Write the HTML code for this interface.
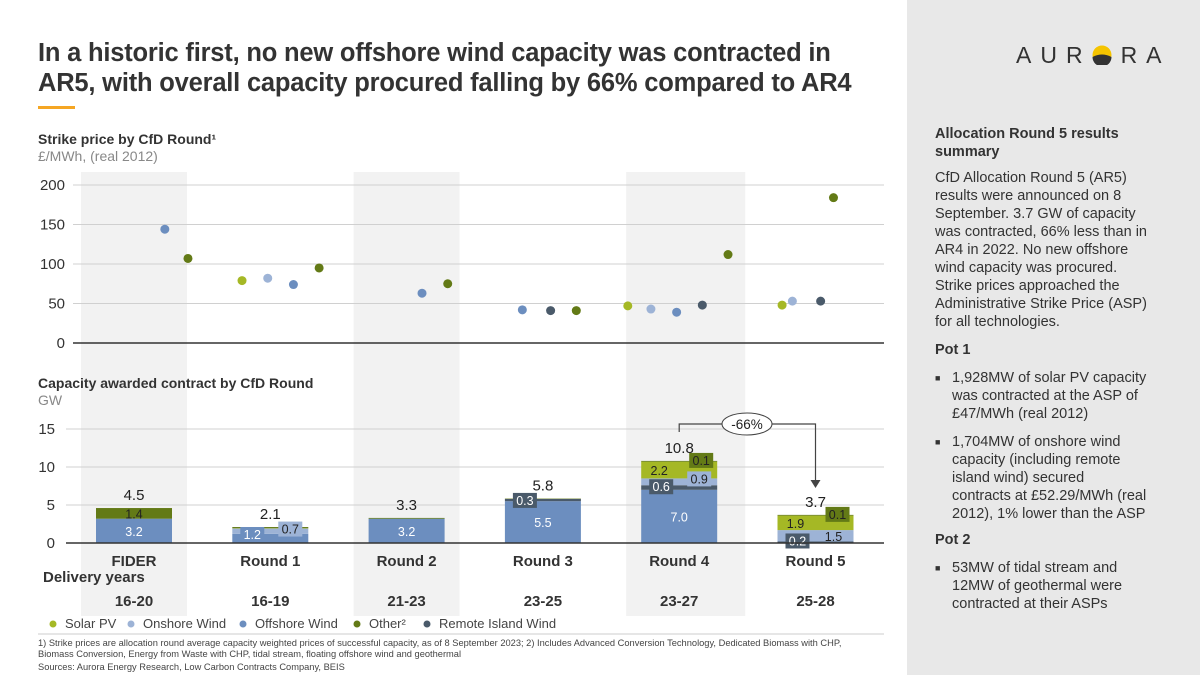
<!DOCTYPE html>
<html><head><meta charset="utf-8"><style>
body{margin:0;width:1200px;height:675px;overflow:hidden;background:#fff;font-family:"Liberation Sans",sans-serif;position:relative}
.side{position:absolute;left:907px;top:0;width:293px;height:675px;background:#e8e8e8}
.title{position:absolute;left:38px;top:38px;font-size:25.5px;font-weight:bold;color:#333;line-height:30px;letter-spacing:-0.2px}
.side p{margin:0}
</style></head><body>
<div class="side">
  <div style="position:absolute;left:109px;top:42px;font-size:23px;letter-spacing:9px;color:#333;white-space:nowrap">AUR<span style="display:inline-block;width:20px;height:20px;position:relative;top:2px;margin-right:9px"><svg width="20" height="20"><circle cx="10" cy="10" r="9.5" fill="#f5c400"/><path d="M0.5 12 Q10 7 19.5 12 A9.5 9.5 0 0 1 0.5 12Z" fill="#333"/></svg></span>RA</div>
  <div style="position:absolute;left:28px;top:125px;width:212px;font-size:14.5px;line-height:18px;color:#333">
    <p style="font-weight:bold">Allocation Round 5 results summary</p>
    <p style="margin-top:8px">CfD Allocation Round 5 (AR5) results were announced on 8 September. 3.7 GW of capacity was contracted, 66% less than in AR4 in 2022. No new offshore wind capacity was procured. Strike prices approached the Administrative Strike Price (ASP) for all technologies.</p>
    <p style="font-weight:bold;margin-top:10px">Pot 1</p>
    <p style="margin-top:10px;padding-left:17px;position:relative"><span style="position:absolute;left:0;font-size:9px">■</span>1,928MW of solar PV capacity was contracted at the ASP of £47/MWh (real 2012)</p>
    <p style="margin-top:10px;padding-left:17px;position:relative"><span style="position:absolute;left:0;font-size:9px">■</span>1,704MW of onshore wind capacity (including remote island wind) secured contracts at £52.29/MWh (real 2012), 1% lower than the ASP</p>
    <p style="font-weight:bold;margin-top:8px">Pot 2</p>
    <p style="margin-top:10px;padding-left:17px;position:relative"><span style="position:absolute;left:0;font-size:9px">■</span>53MW of tidal stream and 12MW of geothermal were contracted at their ASPs</p>
  </div>
</div>
<div class="title">In a historic first, no new offshore wind capacity was contracted in<br>AR5, with overall capacity procured falling by 66% compared to AR4</div>
<div style="position:absolute;left:38px;top:106px;width:37px;height:3px;background:#f5a623"></div>
<svg id="c" width="907" height="675" style="position:absolute;left:0;top:0"></svg>
<script>
const rounds=["FIDER","Round 1","Round 2","Round 3","Round 4","Round 5"];
const years=["16-20","16-19","21-23","23-25","23-27","25-28"];
const seriesNames=["Solar PV","Onshore Wind","Offshore Wind","Other²","Remote Island Wind"];
const colors={"Solar PV":"#a5b825","Onshore Wind":"#9db3d6","Offshore Wind":"#6c8ebf","Other²":"#637a16","Remote Island Wind":"#4a5a6a"};
const priceRound=[0,0,1,1,1,1,2,2,3,3,3,4,4,4,4,4,5,5,5,5];
const priceSeries=["Offshore Wind","Other²","Solar PV","Onshore Wind","Offshore Wind","Other²","Offshore Wind","Other²","Offshore Wind","Remote Island Wind","Other²","Solar PV","Onshore Wind","Offshore Wind","Remote Island Wind","Other²","Solar PV","Onshore Wind","Remote Island Wind","Other²"];
const priceValues=[144,107,79,82,74,95,63,75,42,41,41,47,43,39,48,112,48,53,53,184];
const priceSlot=[1.2,2.1,-1.1,-0.1,0.9,1.9,0.6,1.6,-0.8,0.3,1.3,-2,-1.1,-0.1,0.9,1.9,-1.3,-0.9,0.2,0.7];
const priceTicks=[0,50,100,150,200];
const stackOrder=["Offshore Wind","Remote Island Wind","Onshore Wind","Solar PV","Other²"];
const capOffshore=[3.2,1.2,3.2,5.5,7.0,0];
const capRemote=[0,0,0,0.3,0.6,0.2];
const capOnshore=[0,0.7,0,0,0.9,1.5];
const capSolar=[0,0.05,0,0,2.2,1.9];
const capOther=[1.4,0.15,0.1,0.05,0.1,0.1];
const capTotals=["4.5","2.1","3.3","5.8","10.8","3.7"];
const capTicks=[0,5,10,15];
const bands=[0,2,4];

const S=document.getElementById('c');const NS="http://www.w3.org/2000/svg";
function el(t,a,p){const e=document.createElementNS(NS,t);for(const k in a)e.setAttribute(k,a[k]);(p||S).appendChild(e);return e}
function tx(x,y,s,a){const e=el('text',Object.assign({x:x,y:y,'font-family':'Liberation Sans, sans-serif'},a));e.textContent=s;return e}
const cx=i=>134+i*136.3;
const yP=v=>343-v*(158/200);
const yC=v=>543-v*(114/15);
bands.forEach(i=>{const r=el('rect',{x:cx(i)-53,y:172,width:i==4?119:106,height:444,fill:'#f2f2f2'});

});
let t=tx(38,144,'Strike price by CfD Round¹',{'font-size':14,'font-weight':'bold',fill:'#333'});

t=tx(38,161,'£/MWh, (real 2012)',{'font-size':14,fill:'#888'});

priceTicks.forEach(v=>{const g=el('line',{x1:73,x2:884,y1:yP(v),y2:yP(v),stroke:v?'#d0d0d0':'#333','stroke-width':v?1:1.5});

const l=tx(65,yP(v)+5,v,{'font-size':15,fill:'#333','text-anchor':'end'});
});
priceValues.forEach((v,i)=>{const d=el('circle',{cx:cx(priceRound[i])+priceSlot[i]*25.7,cy:yP(v),r:4.5,fill:colors[priceSeries[i]]});
});
t=tx(38,388,'Capacity awarded contract by CfD Round',{'font-size':14,'font-weight':'bold',fill:'#333'});

t=tx(38,405,'GW',{'font-size':14,fill:'#888'});

capTicks.forEach(v=>{if(v){const g=el('line',{x1:66,x2:884,y1:yC(v),y2:yC(v),stroke:'#d0d0d0'});
}
const l=tx(55,yC(v)+5,v,{'font-size':15,fill:'#333','text-anchor':'end'});
});
const stackData={"Offshore Wind":capOffshore,"Remote Island Wind":capRemote,"Onshore Wind":capOnshore,"Solar PV":capSolar,"Other²":capOther};
rounds.forEach((r,i)=>{let base=0;const segs=[];
stackOrder.forEach(s=>{const v=stackData[s][i];if(v>0){const y0=yC(base),y1=yC(base+v);
const b=el('rect',{x:cx(i)-38,y:y1,width:76,height:y0-y1,fill:colors[s]});
segs.push([s,v,y0,y1]);}base+=v;});
segs.forEach(([s,v,y0,y1])=>{if(v<0.1)return;
if(s=="Other²"&&i<4&&v<1)return;
let x=cx(i),y=(y0+y1)/2+5,box=false;
if(s=="Other²"&&v<1){x=cx(i)+22;y=y1+4;box=true}
else if(s=="Remote Island Wind"){x=cx(i)-18;y=y1+4+(i==5?0:2);box=true}
else if(s=="Onshore Wind"&&v<1.2){x=cx(i)+20;y=y1+5;box=true}
else if(s=="Offshore Wind"&&v<1.5){x=cx(i)-18;y=y0-4;box=true}
else if(s=="Solar PV"){x=cx(i)-20}
else if(s=="Onshore Wind"){x=cx(i)+18}
const lc=(s=="Offshore Wind"||s=="Remote Island Wind")?'#fff':'#222';
if(box){const bx=el('rect',{x:x-12,y:y-12,width:24,height:15,fill:colors[s]});
}
const l=tx(x,y,v.toFixed(1),{'font-size':12.5,fill:lc,'text-anchor':'middle'});
});
const tot=tx(cx(i),yC(base)-8,capTotals[i],{'font-size':15,fill:'#222','text-anchor':'middle'});

const cl=tx(cx(i),566,r,{'font-size':15,'font-weight':'bold',fill:'#333','text-anchor':'middle'});

const yl=tx(cx(i),606,years[i],{'font-size':15,'font-weight':'bold',fill:'#333','text-anchor':'middle'});
});
const ax=el('line',{x1:66,x2:884,y1:543,y2:543,stroke:'#333','stroke-width':1.5});

t=tx(43,582,'Delivery years',{'font-size':15,'font-weight':'bold',fill:'#333'});

const ann=el('path',{d:`M${cx(4)} 432 V424 H${cx(5)} V482`,fill:'none',stroke:'#444','stroke-width':1.2});

const ah=el('path',{d:`M${cx(5)-5} 480 L${cx(5)+5} 480 L${cx(5)} 488Z`,fill:'#444'});

const ov=el('ellipse',{cx:747,cy:424,rx:25,ry:11,fill:'#fff',stroke:'#444'});

t=tx(747,429,'-66%',{'font-size':13.5,fill:'#222','text-anchor':'middle'});

const lx=[53,131,243,357,427];
seriesNames.forEach((s,i)=>{const d=el('circle',{cx:lx[i],cy:624,r:3.5,fill:colors[s]});

const l=tx(lx[i]+12,628,s,{'font-size':13,fill:'#444'});
});
const sep=el('line',{x1:38,x2:884,y1:634,y2:634,stroke:'#ccc'});

[['1) Strike prices are allocation round average capacity weighted prices of successful capacity, as of 8 September 2023; 2) Includes Advanced Conversion Technology, Dedicated Biomass with CHP,',646],
['Biomass Conversion, Energy from Waste with CHP, tidal stream, floating offshore wind and geothermal',657],
['Sources: Aurora Energy Research, Low Carbon Contracts Company, BEIS',670]].forEach(([s,y])=>{
const f=tx(38,y,s,{'font-size':9.3,fill:'#444'});
});
</script>
</body></html>
